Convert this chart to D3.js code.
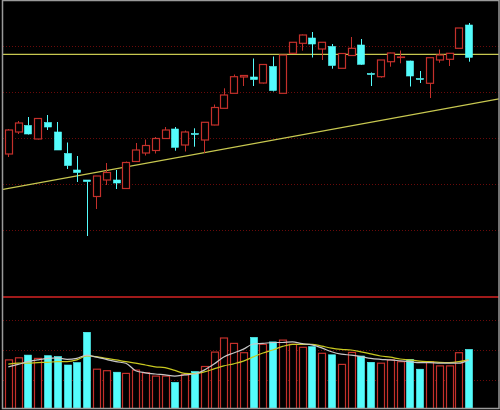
<!DOCTYPE html>
<html>
<head>
<meta charset="utf-8">
<script src="https://cdn.jsdelivr.net/npm/d3@7"></script>
<style>
  body { margin: 0; background: #000; }
  svg { display: block; }
</style>
</head>
<body>
<div id="chart"></div>
<script>

// daily bars, oldest first
var opens  = [14.60,16.80,17.45,16.10,17.75,16.80,14.65,13.00,12.00,10.35,12.00,12.00,11.15,13.85,14.70,14.95,
              16.15,17.10,15.50,16.65,16.00,17.50,19.17,20.67,22.30,22.30,21.70,23.35,20.67,24.67,25.67,26.20,
              25.10,25.35,23.17,24.45,25.50,22.65,22.33,23.83,24.25,23.90,22.15,21.67,24.00,24.07,25.17,27.50];
var highs  = [17.10,17.90,18.30,18.20,18.50,17.80,15.75,14.40,12.00,12.40,13.70,13.00,13.85,15.70,16.05,16.30,
              17.30,17.30,16.95,17.17,17.80,19.55,21.17,22.55,22.50,24.15,23.60,24.35,24.50,25.80,26.55,26.80,
              25.80,25.60,24.65,26.30,26.10,22.75,24.00,24.73,24.95,23.93,22.90,24.25,25.05,24.70,27.20,27.70];
var lows   = [14.30,16.60,16.55,16.05,17.00,15.00,13.10,11.80, 6.40, 9.10,11.50,11.10,11.10,13.80,14.45,14.65,
              16.15,14.93,14.85,15.33,14.70,17.47,19.15,20.65,21.40,21.40,21.65,20.85,20.65,24.60,24.93,24.25,
              24.00,23.13,23.15,24.43,23.50,21.40,22.23,23.33,23.67,21.35,21.70,20.20,23.73,23.40,25.17,23.83];
var closes = [17.00,17.70,16.60,18.15,17.30,15.00,13.45,12.75,11.85,12.40,12.75,11.70,13.75,15.00,15.45,16.15,
              17.00,15.27,16.80,16.55,17.77,19.25,20.50,22.33,22.45,22.05,23.55,20.95,24.50,25.77,26.50,25.60,
              25.77,23.45,24.65,25.17,23.57,22.55,24.00,24.70,24.30,22.40,22.05,24.23,24.50,24.67,27.20,24.27];

var volumes = [16.7,17.4,18.3,17.2,18.1,17.8,15.0,15.8,25.9,13.6,13.1,12.6,12.2,13.3,12.4,11.3,
               11.3, 9.2,11.8,12.8,14.5,19.3,24.0,22.2,19.1,24.2,21.9,22.7,23.3,21.9,20.9,21.1,
               18.9,18.4,15.2,19.2,18.0,15.9,15.6,16.7,16.1,16.9,13.6,16.1,14.7,14.7,19.1,20.2];
var volMa5  = [14.4,15.2,16.1,16.7,17.2,17.4,16.9,17.2,18.3,17.6,16.9,16.1,15.6,13.1,12.4,12.0,
               11.7,11.3,11.7,12.0,13.3,15.3,17.7,19.0,20.3,22.0,22.2,22.5,22.5,22.7,22.1,21.7,
               20.7,19.4,18.6,18.3,17.8,17.2,16.9,16.7,16.4,16.1,15.8,15.8,15.6,15.6,15.6,16.7];
var volMa10 = [15.3,15.6,15.6,15.8,15.9,16.1,16.1,16.7,18.0,17.8,17.2,16.7,16.1,15.6,15.0,14.4,
               14.1,13.2,12.2,12.1,12.7,13.7,14.7,15.4,16.3,17.7,19.0,20.0,21.2,21.9,21.9,21.9,
               21.3,20.6,20.2,20.0,19.4,18.7,18.0,17.6,17.0,16.7,16.3,16.1,15.9,15.8,16.1,16.7];

var priceGrid  = [25.4, 20.8, 16.2, 11.6, 7.0];
var volumeGrid = [10, 20, 30];

var resistance = 24.57;          // flat yellow line
var trendStart = 11.15;          // support line value at the first bar
var trendEnd   = 19.56;          // and at the last bar

var width = 500, height = 410;
var left = 3, right = 499;
var split = 297;                 // border between price and volume panels
var bottom = 408;

var upColor = "#c4302b";
var downColor = "#54fcfc";
var gridColor = "#6a0a0a";

var n = closes.length;
var bars = d3.range(n).map(function(i) {
  return { i: i, o: opens[i], h: highs[i], l: lows[i], c: closes[i], v: volumes[i] };
});

var xScale = d3.scaleLinear().domain([0, n - 1]).range([8.3, 468.7]);
var yPrice = d3.scaleLinear().domain([0, 30]).range([300, 0]);
var yVol = d3.scaleLinear().domain([0, 30]).range([410, 320]);
var trend = d3.scaleLinear().domain([0, n - 1]).range([trendStart, trendEnd]);

var bodyW = 7;
function px(v) { return Math.round(v) + 0.5; }

var svg = d3.select("#chart").append("svg")
            .attr("width", width)
            .attr("height", height)
            .style("background", "#000");

var defs = svg.append("defs");
defs.append("clipPath").attr("id", "clipPrice")
    .append("rect").attr("x", left).attr("y", 1).attr("width", right - left).attr("height", split - 2);
defs.append("clipPath").attr("id", "clipVol")
    .append("rect").attr("x", left).attr("y", split + 1).attr("width", right - left).attr("height", bottom - split - 1);

// grid
svg.append("g").selectAll("line")
   .data(priceGrid)
   .enter().append("line")
   .attr("x1", left).attr("x2", right)
   .attr("y1", function(d) { return px(yPrice(d)); })
   .attr("y2", function(d) { return px(yPrice(d)); })
   .attr("stroke", gridColor)
   .attr("stroke-dasharray", "1,2");

svg.append("g").selectAll("line")
   .data(volumeGrid)
   .enter().append("line")
   .attr("x1", left).attr("x2", right)
   .attr("y1", function(d) { return px(yVol(d)); })
   .attr("y2", function(d) { return px(yVol(d)); })
   .attr("stroke", gridColor)
   .attr("stroke-dasharray", "1,2");

svg.append("line")
   .attr("x1", left).attr("x2", right)
   .attr("y1", split).attr("y2", split)
   .attr("stroke", "#a01a1a")
   .attr("stroke-width", 2);

// price panel
var price = svg.append("g").attr("clip-path", "url(#clipPrice)");

price.append("line")
     .attr("x1", left).attr("x2", right)
     .attr("y1", yPrice(resistance)).attr("y2", yPrice(resistance))
     .attr("stroke", "#c8c850")
     .attr("stroke-width", 1.2);

price.append("line")
     .attr("x1", left).attr("x2", right)
     .attr("y1", yPrice(trend(xScale.invert(left))))
     .attr("y2", yPrice(trend(xScale.invert(right))))
     .attr("stroke", "#c8c850")
     .attr("stroke-width", 1.2);

var candles = price.selectAll(".candle")
                   .data(bars)
                   .enter()
                   .append("g")
                   .attr("class", "candle");

// wicks: red candles are hollow so the wick stops at the body
candles.append("line")
       .attr("x1", function(d) { return px(xScale(d.i)); })
       .attr("x2", function(d) { return px(xScale(d.i)); })
       .attr("y1", function(d) { return yPrice(d.h); })
       .attr("y2", function(d) { return yPrice(Math.max(d.o, d.c)); })
       .attr("stroke", function(d) { return d.c >= d.o ? upColor : downColor; });

candles.append("line")
       .attr("x1", function(d) { return px(xScale(d.i)); })
       .attr("x2", function(d) { return px(xScale(d.i)); })
       .attr("y1", function(d) { return yPrice(Math.min(d.o, d.c)); })
       .attr("y2", function(d) { return yPrice(d.l); })
       .attr("stroke", function(d) { return d.c >= d.o ? upColor : downColor; });

candles.append("rect")
       .attr("x", function(d) { return px(xScale(d.i) - bodyW / 2); })
       .attr("y", function(d) { return yPrice(Math.max(d.o, d.c)); })
       .attr("width", bodyW)
       .attr("height", function(d) { return Math.max(0.5, Math.abs(yPrice(d.o) - yPrice(d.c))); })
       .attr("fill", function(d) { return d.c >= d.o ? "#000" : downColor; })
       .attr("stroke", function(d) { return d.c >= d.o ? upColor : downColor; })
       .attr("stroke-width", function(d) { return d.c >= d.o ? 1.2 : 0.6; });

// volume panel
var vol = svg.append("g").attr("clip-path", "url(#clipVol)");

vol.selectAll(".vbar")
   .data(bars)
   .enter()
   .append("rect")
   .attr("class", "vbar")
   .attr("x", function(d) { return px(xScale(d.i) - bodyW / 2); })
   .attr("y", function(d) { return yVol(d.v); })
   .attr("width", bodyW)
   .attr("height", function(d) { return bottom + 2 - yVol(d.v); })
   .attr("fill", function(d) { return d.c >= d.o ? "#000" : downColor; })
   .attr("stroke", function(d) { return d.c >= d.o ? upColor : downColor; })
   .attr("stroke-width", function(d) { return d.c >= d.o ? 1.2 : 0.6; });

var maLine = d3.line()
               .curve(d3.curveMonotoneX)
               .x(function(d, i) { return xScale(i); })
               .y(function(d) { return yVol(d); });

vol.append("path")
   .attr("d", maLine(volMa10))
   .attr("fill", "none")
   .attr("stroke", "#c8c820")
   .attr("stroke-width", 1.2);

vol.append("path")
   .attr("d", maLine(volMa5))
   .attr("fill", "none")
   .attr("stroke", "#c8c8c8")
   .attr("stroke-width", 1.2);

// frame
svg.append("rect")
   .attr("x", left - 0.5).attr("y", 0.5)
   .attr("width", right - left + 0.5).attr("height", bottom)
   .attr("fill", "none")
   .attr("stroke", "#9a9a9a")
   .attr("stroke-width", 1.5);

</script>
</body>
</html>
